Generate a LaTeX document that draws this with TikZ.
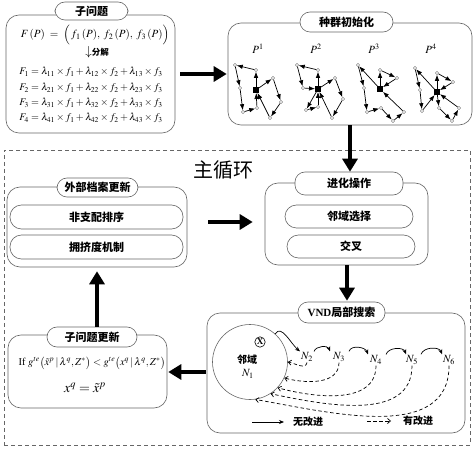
\documentclass[tikz,border=0pt]{standalone}
\usepackage{amsmath}
\usepackage{mathptmx}
\usepackage{fontspec}
\setmainfont{Liberation Serif}
\newfontfamily\cjk{Noto Sans CJK SC}
\usetikzlibrary{arrows.meta}
\begin{document}
\begin{tikzpicture}[x=1pt,y=-1pt,
  boxline/.style={draw=black!60, line width=0.6pt},
  outerbox/.style={boxline, rectangle, rounded corners=13pt, fill=white, inner sep=0pt},
  tabbox/.style={boxline, rectangle, rounded corners=10pt, fill=white, inner sep=0pt,
     font=\cjk\bfseries\fontsize{11}{11}\selectfont},
  innerbox/.style={boxline, rectangle, rounded corners=11.5pt, fill=white, inner sep=0pt,
     font=\cjk\bfseries\fontsize{11}{11}\selectfont},
  bigarrow/.style={line width=4.5pt, -{Triangle[length=13pt,width=15pt]}},
  vtx/.style={circle, draw=black!60, fill=white, inner sep=0pt, minimum size=3.2pt, line width=0.4pt},
  depot/.style={rectangle, fill=black, inner sep=0pt, minimum size=5.5pt},
  edge/.style={line width=0.7pt, -{Latex[length=6pt,width=4.5pt]}},
  nlab/.style={inner sep=1pt, font=\fontsize{11}{11}\selectfont},
  solidarc/.style={line width=0.7pt, -{Stealth[length=5pt,width=4pt]}},
  dasharc/.style={line width=0.7pt, dashed, dash pattern=on 3.5pt off 2.5pt, -{Straight Barb[length=3pt,width=5pt]}},
  cjktext/.style={font=\cjk\bfseries\fontsize{10}{10}\selectfont, inner sep=0pt},
  mathline/.style={inner sep=0pt, font=\fontsize{10.2}{11}\selectfont}
]
\useasboundingbox (0,0) rectangle (474,449);

% ---------- main loop (dashed) ----------
\node[draw=black!60, dashed, dash pattern=on 4pt off 3pt, line width=0.6pt, rectangle,
      minimum width=466pt, minimum height=295pt, inner sep=0pt] (loop) at (237,297.5) {};
\node[font=\cjk\fontsize{20}{20}\selectfont, inner sep=0pt] (looptitle) at (223,170) {主循环};

% ---------- subproblem box ----------
\node[outerbox, minimum width=169pt, minimum height=118pt] (sub) at (90.5,74) {};
\node[tabbox, minimum width=73pt, minimum height=18pt] (subtab) at (91.5,11) {子问题};
\node[inner sep=0pt, font=\fontsize{11}{12}\selectfont] (fp) at (95,35) {$F\,(P)\;=\;\Bigl(\,f_1\,(P),\;f_2\,(P),\;f_3\,(P)\Bigr)$};
\node[inner sep=0pt] (dec) at (97,52) {{\fontsize{13}{13}\selectfont$\boldsymbol{\downarrow}$}{\cjk\bfseries\fontsize{8.5}{9}\selectfont 分解}};
\node[mathline] (f1) at (91,72) {$F_1=\lambda_{11}\times f_1+\lambda_{12}\times f_2+\lambda_{13}\times f_3$};
\node[mathline] (f2) at (91,88) {$F_2=\lambda_{21}\times f_1+\lambda_{22}\times f_2+\lambda_{23}\times f_3$};
\node[mathline] (f3) at (91,103) {$F_3=\lambda_{31}\times f_1+\lambda_{32}\times f_2+\lambda_{33}\times f_3$};
\node[mathline] (f4) at (91,118) {$F_4=\lambda_{41}\times f_1+\lambda_{42}\times f_2+\lambda_{43}\times f_3$};

% ---------- population init box ----------
\node[outerbox, minimum width=244pt, minimum height=102pt] (pop) at (350,74) {};
\node[tabbox, minimum width=93pt, minimum height=20pt] (poptab) at (346.5,22) {种群初始化};
\node[nlab] (p1) at (258,49) {$P^1$};
\node[nlab] (p2) at (316,49) {$P^2$};
\node[nlab] (p3) at (374,49) {$P^3$};
\node[nlab] (p4) at (431,49) {$P^4$};

% graph 1
\node[depot] (aD) at (256,90) {};
\node[vtx] (a1) at (256,70) {};
\node[vtx] (a2) at (235,65) {};
\node[vtx] (a3) at (240,88) {};
\node[vtx] (a4) at (243,112) {};
\node[vtx] (a5) at (257,108) {};
\node[vtx] (a6) at (273,78) {};
\node[vtx] (a7) at (281,102) {};
\node[vtx] (a8) at (270,118) {};
\draw[edge] (aD) -- (a1);
\draw[edge] (a1) -- (a2);
\draw[edge] (a2) -- (a3);
\draw[edge] (a3) -- (a4);
\draw[edge] (a4) -- (a5);
\draw[edge] (a5) -- (aD);
\draw[edge] (aD) -- (a6);
\draw[edge] (a6) -- (a7);
\draw[edge] (a7) -- (a8);
\draw[edge] (a8) -- (aD);

% graph 2
\node[depot] (bD) at (318,89) {};
\node[vtx] (b1) at (318,70) {};
\node[vtx] (b2) at (297,65) {};
\node[vtx] (b3) at (303,88) {};
\node[vtx] (b4) at (335,78) {};
\node[vtx] (b5) at (343,99) {};
\node[vtx] (b6) at (332,118) {};
\node[vtx] (b7) at (306,110) {};
\node[vtx] (b8) at (318,107) {};
\draw[edge] (bD) -- (b1);
\draw[edge] (b1) -- (b2);
\draw[edge] (b2) -- (b3);
\draw[edge] (b3) -- (bD);
\draw[edge] (bD) -- (b4);
\draw[edge] (b4) -- (b5);
\draw[edge] (b5) -- (b6);
\draw[edge] (b6) -- (bD);
\draw[edge] (bD) -- (b7);
\draw[edge] (b7) -- (b8);
\draw[edge] (b8) -- (bD);

% graph 3
\node[depot] (cD) at (380,89) {};
\node[vtx] (c1) at (358,65) {};
\node[vtx] (c2) at (364,88) {};
\node[vtx] (c3) at (367,112) {};
\node[vtx] (c4) at (381,108) {};
\node[vtx] (c5) at (393,121) {};
\node[vtx] (c6) at (404,112) {};
\node[vtx] (c7) at (380,70) {};
\node[vtx] (c8) at (397,78) {};
\draw[edge] (cD) -- (c1);
\draw[edge] (c1) -- (c2);
\draw[edge] (c2) -- (c3);
\draw[edge] (c3) -- (c4);
\draw[edge] (c4) -- (c5);
\draw[edge] (c5) -- (c6);
\draw[edge] (c6) -- (cD);
\draw[edge] (cD) -- (c7);
\draw[edge] (c7) -- (c8);
\draw[edge] (c8) -- (cD);

% graph 4
\node[depot] (dD) at (437,92) {};
\node[vtx] (d1) at (415,68) {};
\node[vtx] (d2) at (420,90) {};
\node[vtx] (d3) at (422,111) {};
\node[vtx] (d4) at (437,73) {};
\node[vtx] (d5) at (453,82) {};
\node[vtx] (d6) at (439,108) {};
\node[vtx] (d7) at (452,121) {};
\node[vtx] (d8) at (459,108) {};
\draw[edge] (dD) -- (d1);
\draw[edge] (d1) -- (d2);
\draw[edge] (d2) -- (d3);
\draw[edge] (d3) -- (dD);
\draw[edge] (dD) -- (d4);
\draw[edge] (d4) -- (d5);
\draw[edge] (d5) -- (dD);
\draw[edge] (dD) -- (d6);
\draw[edge] (d6) -- (d7);
\draw[edge] (d7) -- (d8);
\draw[edge] (d8) -- (dD);

% ---------- evolution box ----------
\node[outerbox, minimum width=163pt, minimum height=82pt] (evo) at (346.5,224) {};
\node[tabbox, minimum width=108pt, minimum height=23pt] (evotab) at (349,183.5) {进化操作};
\node[innerbox, minimum width=128pt, minimum height=23pt] (nbsel) at (349,216.5) {邻域选择};
\node[innerbox, minimum width=128pt, minimum height=23pt] (cross) at (351,246.5) {交叉};

% ---------- archive box ----------
\node[outerbox, minimum width=180pt, minimum height=80pt] (arch) at (97,227) {};
\node[tabbox, minimum width=81pt, minimum height=19pt] (archtab) at (97.5,187.5) {外部档案更新};
\node[innerbox, minimum width=173pt, minimum height=24pt] (nds) at (96.5,217) {非支配排序};
\node[innerbox, minimum width=173pt, minimum height=24pt] (crowd) at (96.5,247) {拥挤度机制};

% ---------- subproblem update box ----------
\node[outerbox, minimum width=159pt, minimum height=73pt] (upd) at (87.5,371.5) {};
\node[tabbox, minimum width=90pt, minimum height=20pt] (updtab) at (92,337) {子问题更新};
\node[inner sep=0pt, font=\fontsize{10.5}{11}\selectfont] (cond) at (92,363) {If $g^{te}\bigl(\tilde{x}^p\,|\,\lambda^q,Z^*\bigr)<g^{te}\bigl(x^q\,|\,\lambda^q,Z^*\bigr)$};
\node[inner sep=0pt, font=\fontsize{14}{14}\selectfont] (assign) at (85,388) {$x^q=\tilde{x}^p$};

% ---------- VND box ----------
\node[outerbox, minimum width=258pt, minimum height=120pt] (vnd) at (336,373) {};
\node[tabbox, minimum width=87pt, minimum height=21pt, font=\bfseries\fontsize{11}{11}\selectfont] (vndtab) at (341.5,312.5) {VND{\cjk\bfseries 局部搜索}};
\node[circle, draw=black!60, line width=0.6pt, minimum size=75pt, inner sep=0pt] (n1) at (250,362) {};
\node[circle, draw=black, line width=0.6pt, inner sep=0.6pt, font=\bfseries\fontsize{9}{9}\selectfont] (xx) at (260,342) {X};
\node[cjktext] (nbl) at (247,360) {邻域};
\node[nlab] (n1lab) at (248,374) {$N_1$};
\node[nlab] (nn2) at (307,357) {$N_2$};
\node[nlab] (nn3) at (339,357) {$N_3$};
\node[nlab] (nn4) at (376,360) {$N_4$};
\node[nlab] (nn5) at (412,360) {$N_5$};
\node[nlab] (nn6) at (449,360) {$N_6$};

\draw[solidarc] (n1.48) to[out=60,in=140] (nn2.north west);
\draw[solidarc] (nn2.north east) to[out=70,in=110] ([xshift=-2pt]nn3.north west);
\draw[solidarc] ([xshift=3pt]nn3.north east) to[out=70,in=110] ([xshift=-1pt]nn4.north west);
\draw[solidarc] ([xshift=3pt]nn4.north east) to[out=70,in=110] ([xshift=1pt]nn5.north west);
\draw[solidarc] ([xshift=2pt]nn5.north east) to[out=70,in=110] (nn6.north west);

\draw[dasharc] (nn2.south) to[out=-100,in=-10] (n1.east);
\draw[dasharc] (nn3.south) to[out=-90,in=-15] (n1.-25);
\draw[dasharc] (nn4.south) to[out=-90,in=-15] (n1.-43);
\draw[dasharc] (nn5.south) to[out=-90,in=-12] (n1.-57);
\draw[dasharc] (nn6.south) to[out=-90,in=-10] (n1.-82);

% legend
\coordinate (ls1) at (252,422);
\coordinate (ls2) at (284,422);
\coordinate (ld1) at (367,421);
\coordinate (ld2) at (391,421);
\draw[line width=0.7pt, -{Stealth[length=5pt,width=4pt]}] (ls1) -- (ls2);
\draw[line width=0.7pt, dashed, dash pattern=on 3.5pt off 2.5pt, -{Straight Barb[length=3pt,width=5pt]}] (ld1) -- (ld2);
\node[cjktext] (leg1) at (308,422) {无改进};
\node[cjktext] (leg2) at (418,421) {有改进};

% ---------- big arrows ----------
\draw[bigarrow, shorten <=5pt, shorten >=1pt] (sub.east) -- (pop.west);
\draw[bigarrow, shorten >=0pt] (pop.south) -- (pop.south |- evotab.north);
\draw[bigarrow, shorten >=1pt] (evo.south -| 347,0) -- (347,0 |- vndtab.north);
\draw[bigarrow, shorten <=21pt, shorten >=12pt] (arch.east |- 0,222) -- (evo.west |- 0,222);
\draw[bigarrow, shorten <=1pt, shorten >=1pt] (vnd.west |- 0,372) -- (upd.east |- 0,372);
\draw[bigarrow, shorten >=4pt] (updtab.north -| arch.south) -- (arch.south);
\end{tikzpicture}
\end{document}
